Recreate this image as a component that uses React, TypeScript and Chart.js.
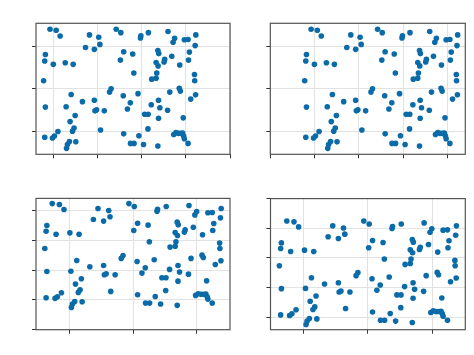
import React, { useEffect, useRef } from "react";
import { Chart, registerables } from "chart.js";

Chart.register(...registerables);

// Same 100 random points shown in every panel
const xValues = [
  0.184, 0.212, 0.230, 0.363, 0.345, 0.385, 0.405, 0.410, 0.163, 0.160,
  0.199, 0.253, 0.289, 0.155, 0.280, 0.331, 0.484, 0.505, 0.596, 0.594,
  0.630, 0.518, 0.503, 0.559, 0.564, 0.461, 0.454, 0.516, 0.583, 0.385,
  0.719, 0.749, 0.742, 0.793, 0.810, 0.845, 0.842, 0.673, 0.677, 0.816,
  0.736, 0.812, 0.665, 0.674, 0.704, 0.701, 0.772, 0.668, 0.665, 0.645,
  0.839, 0.840, 0.727, 0.770, 0.775, 0.844, 0.822, 0.676, 0.163, 0.257,
  0.388, 0.395, 0.298, 0.275, 0.293, 0.286, 0.160, 0.195, 0.204, 0.220,
  0.272, 0.263, 0.259, 0.301, 0.430, 0.413, 0.548, 0.535, 0.613, 0.629,
  0.628, 0.518, 0.549, 0.565, 0.587, 0.608, 0.643, 0.682, 0.717, 0.676,
  0.788, 0.745, 0.755, 0.766, 0.776, 0.785, 0.790, 0.793, 0.810, 0.673,
];
const yValues = [
  0.849, 0.843, 0.809, 0.816, 0.742, 0.731, 0.802, 0.760, 0.701, 0.663,
  0.643, 0.652, 0.643, 0.547, 0.466, 0.424, 0.849, 0.829, 0.811, 0.798,
  0.829, 0.717, 0.668, 0.704, 0.592, 0.500, 0.480, 0.459, 0.471, 0.432,
  0.836, 0.796, 0.773, 0.787, 0.789, 0.816, 0.753, 0.724, 0.706, 0.715,
  0.690, 0.668, 0.654, 0.634, 0.672, 0.657, 0.639, 0.592, 0.562, 0.556,
  0.583, 0.547, 0.480, 0.502, 0.486, 0.464, 0.439, 0.432, 0.392, 0.394,
  0.370, 0.376, 0.343, 0.307, 0.269, 0.251, 0.215, 0.211, 0.222, 0.249,
  0.190, 0.173, 0.150, 0.188, 0.370, 0.258, 0.417, 0.381, 0.350, 0.350,
  0.264, 0.235, 0.179, 0.179, 0.224, 0.173, 0.406, 0.388, 0.374, 0.327,
  0.329, 0.231, 0.242, 0.238, 0.238, 0.240, 0.222, 0.206, 0.179, 0.164,
];

// Tick values (labels are hidden in the reference)
const ticksFifthsToOne = [0.2, 0.4, 0.6, 0.8, 1.0];
const ticksFifthsFromZero = [0.0, 0.2, 0.4, 0.6, 0.8];
const ticksQuarters = [0.25, 0.5, 0.75];

const fixedLow = 0;
const fixedHigh = 1;
const marginFraction = 0.05;

function autoRange(values: number[]) {
  const lo = Math.min(...values);
  const hi = Math.max(...values);
  const pad = (hi - lo) * marginFraction;
  return { min: lo - pad, max: hi + pad };
}

const POINT_COLOR = "#0b6ba8";

const framePlugin = {
  id: "frameBox",
  afterDatasetsDraw(chart: any) {
    const { ctx, chartArea: a } = chart;
    ctx.save();
    ctx.strokeStyle = "#555555";
    ctx.lineWidth = 1.2;
    ctx.strokeRect(a.left, a.top, a.right - a.left, a.bottom - a.top);
    ctx.restore();
  },
};

function scaleOpts(position: string, min: number, max: number, tickVals: number[]) {
  return {
    type: "linear",
    position,
    min,
    max,
    ticks: { display: false },
    afterBuildTicks: (axis: any) => {
      axis.ticks = tickVals.map((v) => ({ value: v }));
    },
    grid: {
      color: "#e2e2e2",
      lineWidth: 1,
      drawTicks: true,
      tickLength: 4,
      tickColor: "#333333",
      tickWidth: 1,
    },
    border: { display: false },
  };
}

type PanelProps = {
  left: number;
  top: number;
  width: number;
  height: number;
  padding: { left: number; right: number; top: number; bottom: number };
  xRange: { min: number; max: number };
  yRange: { min: number; max: number };
  xTicks: number[];
  yTicks: number[];
};

function Panel(p: PanelProps) {
  const ref = useRef<HTMLCanvasElement | null>(null);
  useEffect(() => {
    if (!ref.current) return;
    const points = xValues.map((x, i) => ({ x, y: yValues[i] }));
    const chart = new Chart(ref.current, {
      type: "scatter",
      data: {
        datasets: [
          {
            data: points,
            backgroundColor: POINT_COLOR,
            borderColor: POINT_COLOR,
            borderWidth: 0,
            pointRadius: 2.8,
            pointHoverRadius: 2.8,
          },
        ],
      },
      options: {
        animation: false,
        responsive: false,
        devicePixelRatio: 1,
        layout: { padding: p.padding },
        plugins: { legend: { display: false }, tooltip: { enabled: false } },
        scales: {
          x: scaleOpts("bottom", p.xRange.min, p.xRange.max, p.xTicks) as any,
          y: scaleOpts("left", p.yRange.min, p.yRange.max, p.yTicks) as any,
        },
      },
      plugins: [framePlugin],
    });
    return () => chart.destroy();
  }, []);
  return (
    <canvas
      ref={ref}
      width={p.width}
      height={p.height}
      style={{ position: "absolute", left: p.left, top: p.top, width: p.width, height: p.height }}
    />
  );
}

export default function App() {
  const ax = autoRange(xValues);
  const ay = autoRange(yValues);
  return (
    <div
      style={{
        position: "fixed",
        left: 0,
        top: 0,
        width: 474,
        height: 355,
        background: "#ffffff",
        overflow: "hidden",
      }}
    >
      <Panel
        left={0}
        top={0}
        width={237}
        height={180}
        padding={{ left: 32, right: 7, top: 23.3, bottom: 21.7 }}
        xRange={{ min: ax.min, max: fixedHigh }}
        yRange={ay}
        xTicks={ticksFifthsToOne}
        yTicks={ticksQuarters}
      />
      <Panel
        left={237}
        top={0}
        width={237}
        height={180}
        padding={{ left: 29.3, right: 8.7, top: 23.3, bottom: 21.7 }}
        xRange={{ min: fixedLow, max: ax.max }}
        yRange={ay}
        xTicks={ticksFifthsFromZero}
        yTicks={ticksQuarters}
      />
      <Panel
        left={0}
        top={180}
        width={237}
        height={175}
        padding={{ left: 32, right: 7, top: 18.4, bottom: 21.3 }}
        xRange={ax}
        yRange={{ min: fixedLow, max: ay.max }}
        xTicks={ticksQuarters}
        yTicks={ticksFifthsFromZero}
      />
      <Panel
        left={237}
        top={180}
        width={237}
        height={175}
        padding={{ left: 29.5, right: 8.7, top: 18.6, bottom: 21.3 }}
        xRange={ax}
        yRange={{ min: ay.min, max: fixedHigh }}
        xTicks={ticksQuarters}
        yTicks={ticksFifthsToOne}
      />
    </div>
  );
}
